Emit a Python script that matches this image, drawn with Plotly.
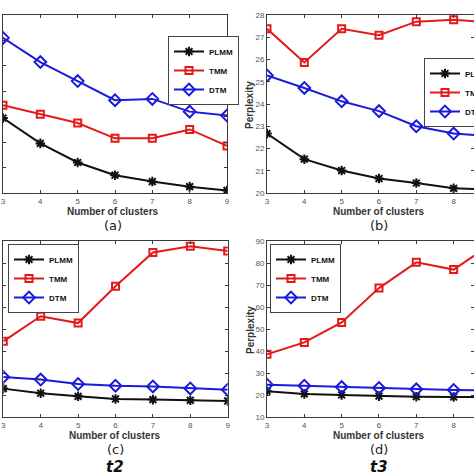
import plotly.graph_objects as go

# number of clusters on every panel
clusters = [3, 4, 5, 6, 7, 8, 9]

# panel (a) - y labels are cropped off in the source
a_plmm = [25.9, 23.9, 22.4, 21.4, 20.9, 20.5, 20.2]
a_tmm = [26.9, 26.2, 25.5, 24.3, 24.3, 25.0, 23.7]
a_dtm = [32.2, 30.3, 28.8, 27.3, 27.4, 26.4, 26.1]

# panel (b)
b_plmm = [22.67, 21.52, 21.01, 20.65, 20.45, 20.21, 20.15]
b_tmm = [27.38, 25.87, 27.38, 27.09, 27.70, 27.79, 27.65]
b_dtm = [25.28, 24.72, 24.12, 23.68, 23.00, 22.67, 22.55]

# panel (c) - t2
c_plmm = [22.9, 20.8, 19.4, 18.2, 17.9, 17.6, 17.3]
c_tmm = [44.4, 55.8, 52.7, 69.4, 84.8, 87.6, 85.5]
c_dtm = [28.2, 27.0, 25.0, 24.2, 23.9, 23.0, 22.4]

# panel (d) - t3
d_plmm = [21.7, 20.5, 20.0, 19.5, 19.2, 19.1, 19.0]
d_tmm = [38.5, 43.9, 53.0, 68.6, 80.3, 77.0, 88.5]
d_dtm = [24.7, 24.2, 23.6, 23.2, 22.6, 22.3, 22.1]

W = 474
H = 474


def px_x(p):
    return p / W


def px_y(p):
    return 1 - p / H


series_style = {
    "PLMM": dict(color="#111111", symbol="asterisk-open", size=8),
    "TMM": dict(color="#e41a1a", symbol="square-open", size=7),
    "DTM": dict(color="#1a1adc", symbol="diamond-open", size=9),
}

panels = [
    ("", [a_plmm, a_tmm, a_dtm], "legend"),
    ("2", [b_plmm, b_tmm, b_dtm], "legend2"),
    ("3", [c_plmm, c_tmm, c_dtm], "legend3"),
    ("4", [d_plmm, d_tmm, d_dtm], "legend4"),
]

fig = go.Figure()

for idx, series, leg in panels:
    for name, vals in zip(["PLMM", "TMM", "DTM"], series):
        st = series_style[name]
        fig.add_trace(go.Scatter(
            x=clusters, y=vals, name=name,
            mode="lines+markers",
            line=dict(color=st["color"], width=2),
            marker=dict(symbol=st["symbol"], size=st["size"], color=st["color"],
                        line=dict(color=st["color"], width=2)),
            xaxis="x" + idx, yaxis="y" + idx, legend=leg,
        ))

axis_common = dict(
    showline=True, linecolor="#3a3a3a", linewidth=1, mirror="ticks",
    ticks="inside", ticklen=3, tickcolor="#3a3a3a", showgrid=False, zeroline=False,
    tickfont=dict(family="Liberation Sans", size=8, color="#555555"),
)

top_dom = [px_y(193), px_y(15)]
bot_dom = [px_y(417), px_y(241)]
right_end = 3 + (W - 267) / 37.33

fig.update_layout(
    width=W, height=H,
    margin=dict(l=0, r=0, t=0, b=0, autoexpand=False),
    paper_bgcolor="white", plot_bgcolor="white",
    font=dict(family="Liberation Sans", color="#333333"),
    xaxis=dict(domain=[px_x(3), px_x(227)], range=[3, 9], dtick=1, anchor="y", **axis_common),
    yaxis=dict(domain=top_dom, range=[20, 34], dtick=2, anchor="x", showticklabels=False, **axis_common),
    xaxis2=dict(domain=[px_x(267), 1], range=[3, right_end], dtick=1, anchor="y2", **axis_common),
    yaxis2=dict(domain=top_dom, range=[20, 28], dtick=1, anchor="x2", **axis_common),
    xaxis3=dict(domain=[px_x(3.3), px_x(227.7)], range=[3, 9], dtick=1, anchor="y3", **axis_common),
    yaxis3=dict(domain=bot_dom, range=[10, 90], dtick=10, anchor="x3", showticklabels=False, **axis_common),
    xaxis4=dict(domain=[px_x(267), 1], range=[3, right_end], dtick=1, anchor="y4", **axis_common),
    yaxis4=dict(domain=bot_dom, range=[10, 90], dtick=10, anchor="x4", **axis_common),
)

legend_common = dict(
    bgcolor="white", bordercolor="#444444", borderwidth=1,
    font=dict(family="Liberation Sans", size=8, color="#111111", weight="bold"),
    itemwidth=30, tracegroupgap=0, xanchor="left", yanchor="top",
)
fig.update_layout(
    legend=dict(x=px_x(168), y=px_y(36), **legend_common),
    legend2=dict(x=px_x(424), y=px_y(58), **legend_common),
    legend3=dict(x=px_x(8), y=px_y(244), **legend_common),
    legend4=dict(x=px_x(270), y=px_y(244), **legend_common),
)

xlab_font = dict(family="Liberation Sans", size=10, color="#333333", weight="bold")
tag_font = dict(family="DejaVu Sans", size=13, color="#222222")
t_font = dict(family="DejaVu Sans", size=15, color="#111111", weight="bold", style="italic")

annots = []
for cx, ly, tg, tgy in [(113, 211, "(a)", 226), (379, 211, "(b)", 226),
                        (115, 435, "(c)", 449), (379, 435, "(d)", 449)]:
    annots.append(dict(text="Number of clusters", x=px_x(cx), y=px_y(ly), font=xlab_font))
    annots.append(dict(text=tg, x=px_x(cx), y=px_y(tgy), font=tag_font))
annots.append(dict(text="t2", x=px_x(115), y=px_y(466.5), font=t_font))
annots.append(dict(text="t3", x=px_x(379), y=px_y(466.5), font=t_font))
annots.append(dict(text="Perplexity", x=px_x(250), y=px_y(105), textangle=-90, font=xlab_font))
annots.append(dict(text="Perplexity", x=px_x(250), y=px_y(330), textangle=-90, font=xlab_font))

for a in annots:
    a.update(xref="paper", yref="paper", showarrow=False, xanchor="center", yanchor="middle")
fig.update_layout(annotations=annots)

# drop the default page margin so the figure sits at the window corner
fig.write_html("out.html", config={"displayModeBar": False},
               post_script="document.body.style.margin='0';")
